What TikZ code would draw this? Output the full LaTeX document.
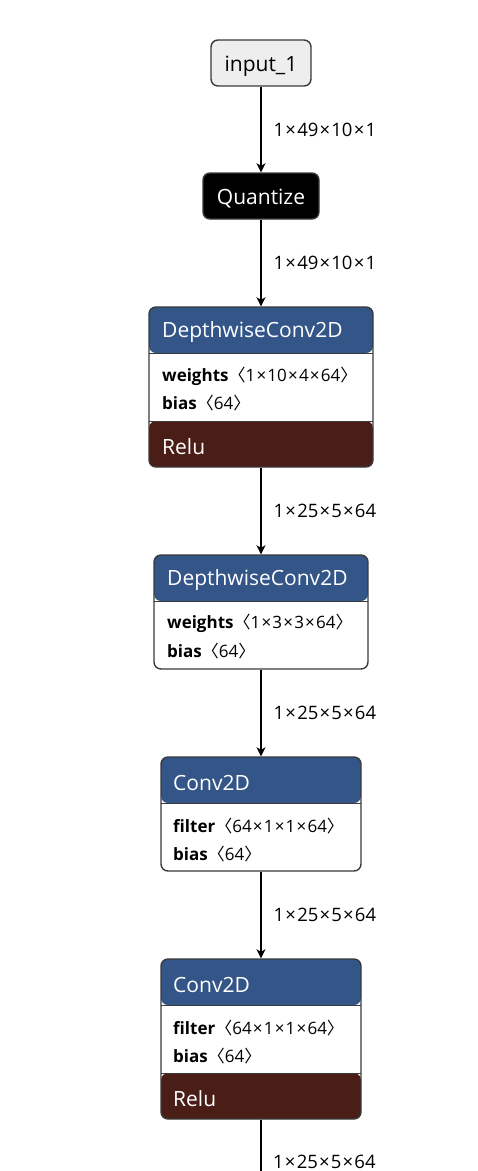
\documentclass[tikz,border=0pt]{standalone}
\usepackage{fontspec}
\setmainfont{Open Sans}
\newfontfamily\cjk{Noto Sans CJK SC}
\usetikzlibrary{arrows.meta,positioning}

\definecolor{hdrblue}{HTML}{335588}
\definecolor{actred}{HTML}{4A1D17}
\definecolor{boxline}{HTML}{3A3A3A}
\definecolor{inpgray}{HTML}{EEEEEE}

\tikzset{
  box/.style={draw=boxline, line width=1.4pt, rounded corners=7pt, inner sep=0pt,
    font=\fontsize{21}{23}\selectfont},
  layer/.style={box, fill=white},
  header/.style={path picture={
    \fill[hdrblue] (path picture bounding box.north west) rectangle ([yshift=-46pt]path picture bounding box.north east);
    \draw[boxline, line width=1pt] ([yshift=-46pt]path picture bounding box.north west) -- ([yshift=-46pt]path picture bounding box.north east);}},
  header act/.style={path picture={
    \fill[hdrblue] (path picture bounding box.north west) rectangle ([yshift=-46pt]path picture bounding box.north east);
    \fill[actred] (path picture bounding box.south west) rectangle ([yshift=46pt]path picture bounding box.south east);
    \draw[boxline, line width=1pt] ([yshift=-46pt]path picture bounding box.north west) -- ([yshift=-46pt]path picture bounding box.north east)
      ([yshift=46pt]path picture bounding box.south west) -- ([yshift=46pt]path picture bounding box.south east);}},
  title/.style={anchor=west, text=white, font=\fontsize{21}{23}\selectfont, inner sep=0pt, yshift=-2.5pt},
  attr/.style={anchor=west, font=\fontsize{17}{19}\selectfont, inner sep=0pt},
  shape lbl/.style={right, xshift=12pt, font=\fontsize{18.5}{20}\selectfont, inner sep=0pt},
  edge/.style={line width=1.4pt, -{Stealth[length=9pt,width=9pt,inset=2.5pt]}},
}
\newcommand{\lt}{{\cjk 〈}}
\newcommand{\rt}{{\cjk 〉}}
\newcommand{\by}{\kern1.2pt×\kern1.2pt}
\newcommand{\boxtext}[1]{\raisebox{-3pt}[\height][\depth]{#1}}

\begin{document}
\begin{tikzpicture}[x=1pt,y=-1pt]
\useasboundingbox (0,0) rectangle (478,1171);

% input and quantize
\node[box, fill=inpgray, minimum width=100pt, minimum height=46pt] (input) at (261,63) {\boxtext{input\_1}};
\node[box, fill=black, text=white, minimum width=116pt, minimum height=46pt] (quant) at (261,196) {\boxtext{Quantize}};

% DepthwiseConv2D with Relu
\node[layer, header act, minimum width=224pt, minimum height=160pt] (dw1) at (261,387) {};
\node[title] (dw1-title) at (162,330) {DepthwiseConv2D};
\node[attr] (dw1-w) at (162,376) {\textbf{weights}\lt 1\by 10\by 4\by 64\rt};
\node[attr] (dw1-b) at (162,403) {\textbf{bias}\lt 64\rt};
\node[title] (dw1-act) at (162,444) {Relu};

% DepthwiseConv2D
\node[layer, header, minimum width=214pt, minimum height=114pt] (dw2) at (261,612) {};
\node[title] (dw2-title) at (167,578) {DepthwiseConv2D};
\node[attr] (dw2-w) at (167,623) {\textbf{weights}\lt 1\by 3\by 3\by 64\rt};
\node[attr] (dw2-b) at (167,651) {\textbf{bias}\lt 64\rt};

% Conv2D
\node[layer, header, minimum width=200pt, minimum height=114pt] (cv1) at (261,814) {};
\node[title] (cv1-title) at (173,780) {Conv2D};
\node[attr] (cv1-f) at (173,826) {\textbf{filter}\lt 64\by 1\by 1\by 64\rt};
\node[attr] (cv1-b) at (173,854) {\textbf{bias}\lt 64\rt};

% Conv2D with Relu
\node[layer, header act, minimum width=200pt, minimum height=160pt] (cv2) at (261,1039) {};
\node[title] (cv2-title) at (173,982) {Conv2D};
\node[attr] (cv2-f) at (173,1028) {\textbf{filter}\lt 64\by 1\by 1\by 64\rt};
\node[attr] (cv2-b) at (173,1056) {\textbf{bias}\lt 64\rt};
\node[title] (cv2-act) at (173,1096) {Relu};

\coordinate (out) at (261,1180);

% connectors
\draw[edge] (input) -- node[shape lbl] {1\by 49\by 10\by 1} (quant);
\draw[edge] (quant) -- node[shape lbl] {1\by 49\by 10\by 1} (dw1);
\draw[edge] (dw1) -- node[shape lbl] {1\by 25\by 5\by 64} (dw2);
\draw[edge] (dw2) -- node[shape lbl] {1\by 25\by 5\by 64} (cv1);
\draw[edge] (cv1) -- node[shape lbl] {1\by 25\by 5\by 64} (cv2);
\draw[line width=1.4pt] (cv2) -- (out);
\node[shape lbl] (out-lbl) at (261,1162) {1\by 25\by 5\by 64};
\end{tikzpicture}
\end{document}
